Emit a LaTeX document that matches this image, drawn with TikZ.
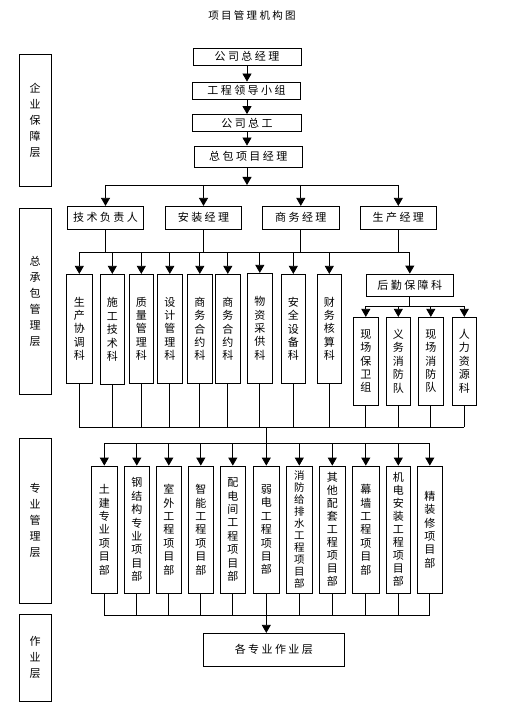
\documentclass[tikz,border=0pt]{standalone}
\usepackage{fontspec}
\setmainfont{Noto Sans CJK SC}
\newfontfamily\cjksp{Noto Sans CJK SC}[LetterSpace=22]
\usetikzlibrary{arrows.meta}
\tikzset{
  bx/.style={draw, line width=0.8pt, inner sep=0pt, align=center, font=\fontsize{11}{13.4}\selectfont},
  hbx/.style={bx, font=\fontsize{11}{13.4}\cjksp},
  lbx/.style={bx, font=\fontsize{11}{16}\selectfont},
  ln/.style={line width=0.8pt},
  arr/.style={ln, -{Triangle[width=9pt,length=8pt]}},
}
\newcommand\mkbox[7]{\node[#1, minimum width={(#5-#3)*1pt}, minimum height={(#6-#4)*1pt}] (#2) at ({(#3+#5)/2},{(#4+#6)/2}) {#7};}
\begin{document}
\begin{tikzpicture}[x=1pt,y=-1pt]
\useasboundingbox (0,0) rectangle (514,711);
\node[font=\fontsize{10.5}{12}\cjksp] (title) at (252,15) {项目管理机构图};
% left layer labels
\mkbox{lbx}{L1}{19}{54}{51}{186}{企\\业\\保\\障\\层}
\mkbox{lbx}{L2}{19}{208}{51}{394}{总\\承\\包\\管\\理\\层}
\mkbox{lbx}{L3}{19}{438}{51}{603}{专\\业\\管\\理\\层}
\mkbox{lbx}{L4}{19}{614}{51}{701}{作\\业\\层}
% top chain
\mkbox{hbx}{gm}{193}{48}{301}{65.5}{公司总经理}
\mkbox{hbx}{lg}{192.5}{82}{300.5}{99}{工程领导小组}
\mkbox{hbx}{ce}{192.5}{114.5}{301.5}{131.5}{公司总工}
\mkbox{hbx}{pm}{194}{146}{302.5}{167.5}{总包项目经理}
\draw[arr] (gm.south -| 247,0) -- (lg.north -| 247,0);
\draw[arr] (lg.south -| 247,0) -- (ce.north -| 247,0);
\draw[arr] (ce.south -| 247,0) -- (pm.north -| 247,0);
% second level
\mkbox{hbx}{tech}{67.7}{206.3}{143.3}{229.3}{技术负责人}
\mkbox{hbx}{inst}{165.7}{206.3}{241.3}{229}{安装经理}
\mkbox{hbx}{biz}{262.3}{206.3}{339.3}{229}{商务经理}
\mkbox{hbx}{prod}{360.3}{206.3}{436.3}{229}{生产经理}
\coordinate (b1) at (247,185);
\draw[arr] (pm.south -| b1) -- (b1);
\draw[ln] (tech.north |- b1) -- (prod.north |- b1);
\foreach \n in {tech,inst,biz,prod} \draw[arr] (\n.north |- b1) -- (\n.north);
% third level
\mkbox{bx}{s1}{66.3}{274.3}{92.3}{383.3}{生\\产\\协\\调\\科}
\mkbox{bx}{s2}{100.3}{274.3}{124.3}{384.7}{施\\工\\技\\术\\科}
\mkbox{bx}{s3}{129.3}{274.3}{153.3}{383.3}{质\\量\\管\\理\\科}
\mkbox{bx}{s4}{157.3}{274.3}{182.3}{383.3}{设\\计\\管\\理\\科}
\mkbox{bx}{s5}{187.3}{274.3}{212.3}{383.3}{商\\务\\合\\约\\科}
\mkbox{bx}{s6}{215.3}{274.3}{240.3}{383.3}{商\\务\\合\\约\\科}
\mkbox{bx}{s7}{247.3}{273.3}{272.3}{383.3}{物\\资\\采\\供\\科}
\mkbox{bx}{s8}{281.3}{274.3}{305.3}{383.3}{安\\全\\设\\备\\科}
\mkbox{bx}{s9}{317.3}{274.3}{341.3}{383.3}{财\\务\\核\\算\\科}
\mkbox{hbx}{lq}{366.3}{274}{453.3}{296.3}{后勤保障科}
\coordinate (b2) at (0,252);
\foreach \n in {tech,inst,biz,prod} \draw[ln] (\n.south) -- (\n.south |- b2);
\draw[ln] (s1.north |- b2) -- (lq.north |- b2);
\foreach \n in {s1,s2,s3,s4,s5,s6,s7,s8,s9,lq} \draw[arr] (\n.north |- b2) -- (\n.north);
% logistics sub-units
\mkbox{bx}{q1}{353.3}{317.3}{378.3}{405}{现\\场\\保\\卫\\组}
\mkbox{bx}{q2}{386.3}{317.3}{410.3}{405}{义\\务\\消\\防\\队}
\mkbox{bx}{q3}{418.3}{317.3}{443.3}{405}{现\\场\\消\\防\\队}
\mkbox{bx}{q4}{452.3}{317.3}{476.3}{405}{人\\力\\资\\源\\科}
\coordinate (b3) at (0,306.3);
\draw[ln] (lq.south) -- (lq.south |- b3);
\draw[ln] (q1.north |- b3) -- (q4.north |- b3);
\foreach \n in {q1,q2,q3,q4} \draw[arr] (\n.north |- b3) -- (\n.north);
% collect to bottom
\coordinate (b4) at (0,427);
\foreach \n in {s1,s2,s3,s4,s5,s6,s7,s8,s9,q1,q2,q3,q4} \draw[ln] (\n.south) -- (\n.south |- b4);
\draw[ln] (s1.south |- b4) -- (q4.south |- b4);
% specialist departments
\mkbox{bx}{p1}{91.3}{466}{117.3}{593.3}{土\\建\\专\\业\\项\\目\\部}
\mkbox{bx}{p2}{124.3}{466}{149.3}{593.3}{钢\\结\\构\\专\\业\\项\\目\\部}
\mkbox{bx}{p3}{156.3}{466}{181.3}{593.3}{室\\外\\工\\程\\项\\目\\部}
\mkbox{bx}{p4}{188.3}{466}{213.3}{593.3}{智\\能\\工\\程\\项\\目\\部}
\mkbox{bx}{p5}{220.3}{466}{245.3}{593.3}{配\\电\\间\\工\\程\\项\\目\\部}
\mkbox{bx}{p6}{253.3}{466}{279.3}{593.3}{弱\\电\\工\\程\\项\\目\\部}
\mkbox{bx, font=\fontsize{10.5}{12}\selectfont}{p7}{286.3}{466}{312.3}{593.3}{消\\防\\给\\排\\水\\工\\程\\项\\目\\部}
\mkbox{bx, font=\fontsize{11}{13}\selectfont}{p8}{319.3}{466}{345.3}{593.3}{其\\他\\配\\套\\工\\程\\项\\目\\部}
\mkbox{bx}{p9}{352.3}{466}{379.3}{593.3}{幕\\墙\\工\\程\\项\\目\\部}
\mkbox{bx, font=\fontsize{11}{13}\selectfont}{p10}{386.3}{466}{410.3}{593.3}{机\\电\\安\\装\\工\\程\\项\\目\\部}
\mkbox{bx}{p11}{417.3}{466}{442.3}{593.3}{精\\装\\修\\项\\目\\部}
\coordinate (b5) at (0,443.3);
\draw[ln] (p6.north |- b4) -- (p6.north |- b5);
\draw[ln] (p1.north |- b5) -- (p11.north |- b5);
\foreach \n in {p1,p2,p3,p4,p5,p6,p7,p8,p9,p10,p11} \draw[arr] (\n.north |- b5) -- (\n.north);
% work layer
\mkbox{hbx}{work}{203.3}{633.3}{344.3}{666}{各专业作业层}
\coordinate (b6) at (0,615.7);
\foreach \n in {p1,p2,p3,p4,p5,p6,p7,p8,p9,p10,p11} \draw[ln] (\n.south) -- (\n.south |- b6);
\draw[ln] (p1.south |- b6) -- (p11.south |- b6);
\draw[arr] (p6.south |- b6) -- (p6.south |- work.north);
\end{tikzpicture}
\end{document}
